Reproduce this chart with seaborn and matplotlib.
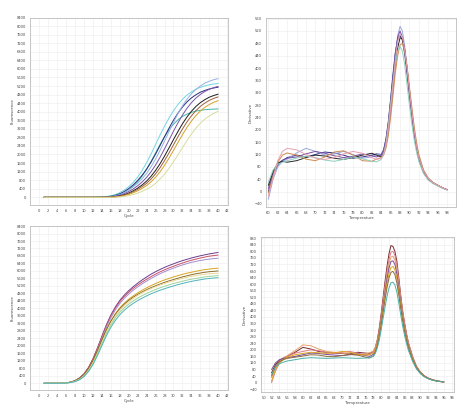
import pandas as pd
import matplotlib
matplotlib.use("Agg")
import matplotlib.pyplot as plt
import seaborn as sns

# ---------------- Data ----------------
# amplification, run 1 (top left)
cycles = list(range(1, 41))
tl_cyan = [0, 0, 0, 0, 0, 0, 0, 0, 0, 0, 0, 0, 5, 15, 35, 70, 130, 220, 340, 500,
           700, 950, 1260, 1620, 2030, 2470, 2910, 3321, 3704, 4044,
           4337, 4579, 4773, 4926, 5047, 5137, 5204, 5255, 5294, 5320]
tl_teal = [0, 0, 0, 0, 0, 0, 0, 0, 0, 0, 0, 0, 5, 15, 30, 60, 105, 165, 250, 360,
           520, 730, 990, 1316, 1681, 2075, 2469, 2834, 3154, 3415,
           3619, 3777, 3884, 3967, 4026, 4063, 4092, 4109, 4121, 4129]
tl_navy = [0, 0, 0, 0, 0, 0, 0, 0, 0, 0, 0, 0, 0, 5, 15, 40, 85, 160, 270, 410,
           580, 790, 1034, 1318, 1649, 2021, 2420, 2830, 3229, 3602,
           3932, 4216, 4452, 4641, 4788, 4909, 4993, 5061, 5108, 5145]
tl_lblue = [0, 0, 0, 0, 0, 0, 0, 0, 0, 0, 0, 0, 0, 0, 10, 30, 70, 130, 220, 340,
            490, 661, 866, 1123, 1431, 1790, 2195, 2628, 3072, 3506,
            3910, 4269, 4577, 4834, 5039, 5198, 5330, 5421, 5495, 5546]
tl_purple = [0, 0, 0, 0, 0, 0, 0, 0, 0, 0, 0, 0, 0, 0, 5, 20, 50, 100, 170, 270,
             390, 540, 717, 934, 1198, 1511, 1870, 2263, 2675, 3087,
             3480, 3839, 4152, 4416, 4633, 4804, 4941, 5045, 5123, 5181]
tl_black = [0, 0, 0, 0, 0, 0, 0, 0, 0, 0, 0, 0, 0, 0, 0, 10, 30, 65, 120, 200,
            305, 430, 580, 760, 985, 1255, 1570, 1925, 2305, 2695,
            3075, 3430, 3745, 4015, 4240, 4420, 4560, 4675, 4755, 4820]
tl_brown = [0, 0, 0, 0, 0, 0, 0, 0, 0, 0, 0, 0, 0, 0, 0, 5, 20, 50, 100, 170,
            260, 370, 500, 657, 855, 1098, 1384, 1713, 2073, 2450,
            2827, 3187, 3516, 3802, 4045, 4243, 4400, 4525, 4621, 4692]
tl_gold = [0, 0, 0, 0, 0, 0, 0, 0, 0, 0, 0, 0, 0, 0, 0, 0, 15, 40, 80, 135,
           210, 305, 418, 551, 722, 936, 1192, 1492, 1829, 2190,
           2560, 2921, 3259, 3558, 3814, 4028, 4199, 4332, 4441, 4517]
tl_pale = [0, 0, 0, 0, 0, 0, 0, 0, 0, 0, 0, 0, 0, 0, 0, 0, 5, 20, 45, 80,
           130, 198, 280, 378, 499, 654, 847, 1079, 1350, 1656,
           1982, 2318, 2645, 2950, 3221, 3453, 3646, 3801, 3922, 4021]

# amplification, run 2 (bottom left)
bl_purple = [0, 0, 0, 0, 5, 20, 60, 140, 280, 500, 840, 1300, 1880, 2520, 3130, 3650, 4080, 4430, 4710, 4950,
             5160, 5350, 5520, 5680, 5830, 5960, 6080, 6190, 6290, 6380,
             6470, 6550, 6620, 6690, 6750, 6810, 6860, 6910, 6950, 6990]
bl_pink = [0, 0, 0, 0, 5, 22, 65, 150, 290, 510, 850, 1310, 1880, 2500, 3090, 3600, 4020, 4360, 4640, 4870,
           5070, 5250, 5410, 5560, 5700, 5830, 5950, 6060, 6160, 6250,
           6340, 6420, 6500, 6570, 6630, 6690, 6740, 6790, 6820, 6850]
bl_lav = [0, 0, 0, 0, 4, 18, 55, 125, 255, 460, 780, 1220, 1780, 2400, 2990, 3500, 3920, 4260, 4540, 4770,
          4970, 5150, 5310, 5460, 5600, 5730, 5850, 5960, 6060, 6150,
          6240, 6320, 6390, 6460, 6510, 6560, 6600, 6630, 6660, 6680]
bl_gold = [0, 0, 0, 0, 4, 18, 55, 120, 240, 440, 750, 1170, 1700, 2290, 2850, 3330, 3720, 4030, 4280, 4490,
           4670, 4830, 4970, 5100, 5220, 5330, 5430, 5520, 5600, 5680,
           5750, 5820, 5880, 5930, 5980, 6030, 6070, 6100, 6130, 6150]
bl_olive = [0, 0, 0, 0, 5, 20, 60, 135, 270, 480, 800, 1230, 1760, 2330, 2870, 3320, 3690, 3990, 4230, 4430,
            4600, 4750, 4880, 5000, 5110, 5210, 5300, 5390, 5470, 5540,
            5610, 5680, 5740, 5800, 5850, 5890, 5930, 5960, 5980, 6000]
bl_yellow = [0, 0, 0, 0, 3, 14, 45, 105, 215, 400, 690, 1090, 1600, 2170, 2720, 3190, 3580, 3890, 4140, 4350,
             4530, 4690, 4830, 4950, 5060, 5160, 5250, 5330, 5410, 5480,
             5540, 5600, 5660, 5710, 5750, 5790, 5820, 5850, 5870, 5880]
bl_green = [0, 0, 0, 0, 3, 12, 40, 95, 200, 380, 660, 1050, 1550, 2110, 2650, 3110, 3490, 3790, 4030, 4230,
            4400, 4550, 4680, 4800, 4910, 5010, 5100, 5180, 5260, 5330,
            5390, 5450, 5510, 5560, 5600, 5640, 5680, 5710, 5730, 5750]
bl_teal = [0, 0, 0, 0, 3, 12, 38, 90, 190, 360, 630, 1000, 1480, 2020, 2540, 2990, 3360, 3660, 3900, 4100,
           4270, 4420, 4550, 4670, 4780, 4880, 4970, 5050, 5130, 5200,
           5270, 5330, 5390, 5440, 5490, 5530, 5570, 5600, 5620, 5640]

# melt curve, run 1 (top right)
tr_temp = [60, 61, 62, 63, 64, 66, 68, 70, 72, 74, 76, 78, 80, 82, 83, 84,
           84.5, 85, 85.5, 86, 86.5, 87, 87.5, 88, 88.5, 89, 89.5, 90, 90.5, 91, 91.5, 92,
           93, 94, 95, 96, 97, 98]
tr_navy = [0, 55, 85, 100, 110, 118, 112, 120, 128, 125, 118, 108, 112, 118, 122, 120,
           135, 170, 225, 300, 380, 450, 495, 505, 490, 445, 380, 310, 245, 185, 140, 105,
           62, 40, 28, 20, 12, 6]
tr_lblue = [-25, 40, 80, 98, 105, 125, 140, 130, 118, 122, 130, 120, 108, 112, 120, 118,
            130, 160, 215, 285, 360, 440, 505, 535, 520, 470, 400, 325, 255, 195, 145, 108,
            64, 41, 29, 20, 12, 6]
tr_purple = [10, 60, 90, 102, 108, 112, 122, 130, 124, 116, 110, 114, 122, 116, 112, 118,
             132, 165, 220, 292, 370, 445, 500, 520, 500, 455, 390, 318, 250, 190, 142, 106,
             63, 40, 28, 20, 12, 6]
tr_black = [20, 65, 92, 98, 95, 100, 110, 118, 115, 108, 104, 110, 118, 124, 118, 112,
            122, 150, 195, 260, 335, 410, 465, 498, 495, 460, 400, 330, 262, 200, 150, 112,
            66, 42, 29, 20, 12, 6]
tr_orange = [-5, 50, 95, 118, 125, 118, 105, 100, 112, 128, 132, 118, 100, 98, 105, 110,
             118, 140, 180, 240, 310, 385, 440, 475, 480, 455, 405, 340, 275, 212, 160, 120,
             70, 44, 30, 21, 13, 6]
tr_mint = [30, 70, 88, 95, 100, 108, 115, 110, 102, 98, 104, 112, 106, 98, 96, 104,
           120, 155, 210, 280, 350, 415, 455, 470, 455, 410, 345, 280, 220, 168, 128, 97,
           58, 37, 26, 18, 11, 5]
tr_pink = [-15, 45, 100, 130, 140, 135, 120, 108, 104, 110, 122, 130, 124, 110, 104, 108,
           120, 150, 200, 270, 345, 425, 485, 510, 500, 460, 398, 328, 260, 198, 148, 110,
           65, 42, 29, 20, 12, 6]

# melt curve, run 2 (bottom right)
br_temp = [52, 53, 54, 55, 56, 58, 60, 62, 64, 66, 68, 70, 72, 74, 76, 77, 78,
           78.5, 79, 79.5, 80, 80.5, 81, 81.5, 82, 82.5, 83, 83.5, 84, 84.5, 85, 85.5, 86, 86.5, 87,
           88, 89, 90, 91, 92, 93, 94, 95, 96]
br_maroon = [60, 110, 135, 150, 160, 185, 215, 205, 190, 185, 180, 178, 175, 185, 180, 178, 190,
             215, 260, 330, 420, 520, 620, 710, 785, 835, 830, 800, 740, 640, 530, 435, 360, 295, 240,
             160, 100, 65, 42, 28, 19, 12, 8, 5]
br_pink = [0, 70, 120, 145, 160, 180, 190, 200, 195, 185, 178, 185, 190, 180, 170, 172, 185,
           210, 252, 318, 402, 498, 595, 680, 752, 795, 800, 775, 715, 622, 520, 428, 350, 288, 235,
           157, 98, 63, 41, 27, 18, 12, 8, 5]
br_salmon = [30, 95, 130, 150, 165, 195, 230, 225, 205, 190, 185, 180, 172, 168, 175, 182, 192,
             212, 250, 310, 390, 480, 570, 655, 725, 765, 770, 748, 690, 602, 505, 418, 342, 282, 230,
             154, 96, 62, 40, 27, 18, 12, 8, 5]
br_purple = [80, 120, 140, 148, 152, 160, 170, 180, 178, 172, 168, 165, 170, 175, 165, 160, 172,
             196, 238, 300, 378, 465, 552, 632, 698, 738, 742, 720, 662, 578, 485, 400, 328, 270, 220,
             147, 93, 60, 39, 26, 17, 11, 7, 4]
br_gold = [10, 80, 120, 140, 155, 170, 178, 185, 182, 178, 182, 190, 185, 172, 168, 170, 180,
           200, 238, 295, 368, 448, 530, 605, 665, 702, 708, 688, 635, 555, 468, 388, 320, 264, 215,
           145, 92, 60, 39, 26, 17, 11, 7, 4]
br_olive = [40, 100, 128, 140, 148, 155, 162, 170, 168, 160, 158, 165, 172, 168, 155, 150, 162,
            185, 222, 278, 350, 428, 508, 580, 638, 672, 678, 658, 608, 533, 450, 374, 308, 254, 208,
            140, 89, 58, 38, 25, 17, 11, 7, 4]
br_teal = [50, 95, 115, 125, 132, 140, 148, 152, 150, 148, 150, 152, 150, 148, 150, 152, 160,
           178, 210, 258, 322, 392, 462, 526, 578, 608, 612, 596, 552, 486, 412, 344, 285, 236, 194,
           131, 84, 55, 36, 24, 16, 10, 7, 4]

tl_curves = {"cyan": tl_cyan, "teal": tl_teal, "navy": tl_navy, "lblue": tl_lblue, "purple": tl_purple,
             "black": tl_black, "brown": tl_brown, "gold": tl_gold, "pale": tl_pale}
tl_colors = {"cyan": "#72d6e2", "teal": "#3fb8a8", "navy": "#2b2d7e", "lblue": "#93b2e2", "purple": "#7a55a8",
             "black": "#1c1c1c", "brown": "#a0603a", "gold": "#d4a22a", "pale": "#d9dc9c"}
bl_curves = {"purple": bl_purple, "pink": bl_pink, "lav": bl_lav, "gold": bl_gold, "olive": bl_olive,
             "yellow": bl_yellow, "green": bl_green, "teal": bl_teal}
bl_colors = {"purple": "#6a3d8f", "pink": "#c8506a", "lav": "#a38fcf", "gold": "#d9a520", "olive": "#8a6d2a",
             "yellow": "#ead894", "green": "#9fd39a", "teal": "#4fb4bc"}
tr_curves = {"navy": tr_navy, "lblue": tr_lblue, "purple": tr_purple, "black": tr_black,
             "orange": tr_orange, "mint": tr_mint, "pink": tr_pink}
tr_colors = {"navy": "#2c2f86", "lblue": "#9aa6dc", "purple": "#7b4ea3", "black": "#262626",
             "orange": "#d08a50", "mint": "#8fd0c0", "pink": "#e8a0b0"}
br_curves = {"maroon": br_maroon, "pink": br_pink, "salmon": br_salmon, "purple": br_purple,
             "gold": br_gold, "olive": br_olive, "teal": br_teal}
br_colors = {"maroon": "#7a2a2a", "pink": "#e07a8a", "salmon": "#e8a070", "purple": "#7a4a9a",
             "gold": "#d9a520", "olive": "#8b6b3a", "teal": "#4ab0a8"}


def long_df(x, curves, xname, yname):
    rows = []
    for name, vals in curves.items():
        for xv, yv in zip(x, vals):
            rows.append({xname: xv, yname: yv, "well": name})
    return pd.DataFrame(rows)


def panel(ax, df, xname, yname, colors, xticks, yticks, xlim, ylim):
    sns.lineplot(data=df, x=xname, y=yname, hue="well", palette=colors, ax=ax,
                 legend=False, linewidth=0.7, estimator=None, sort=False)
    ax.set_xticks(xticks)
    ax.set_yticks(yticks)
    ax.set_xlim(*xlim)
    ax.set_ylim(*ylim)
    ax.grid(True, color="#ededed", linewidth=0.4)
    ax.set_axisbelow(True)
    ax.tick_params(labelsize=2.6, length=1.5, width=0.4, color="#888888", pad=1.5, labelcolor="#444444")
    ax.set_xlabel(xname, fontsize=2.8, labelpad=0.5, color="#444444")
    ax.set_ylabel(yname, fontsize=2.8, labelpad=1.5, color="#444444")
    for s in ax.spines.values():
        s.set_color("#bdbdbd")
        s.set_linewidth(0.6)


sns.set_style("white")
fig = plt.figure(figsize=(4.74, 4.13), dpi=100)

ax1 = fig.add_axes([0.0633, 0.5036, 0.4177, 0.454])
ax2 = fig.add_axes([0.5612, 0.4988, 0.4008, 0.4576])
ax3 = fig.add_axes([0.0633, 0.0557, 0.4177, 0.397])
ax4 = fig.add_axes([0.5506, 0.0508, 0.4072, 0.3753])

amp_xticks = list(range(0, 43, 2))
amp_yticks = list(range(0, 8401, 400))
panel(ax1, long_df(cycles, tl_curves, "Cycle", "Fluorescence"), "Cycle", "Fluorescence",
      tl_colors, amp_xticks, amp_yticks, (-2.1, 42.2), (-360, 8400))
panel(ax3, long_df(cycles, bl_curves, "Cycle", "Fluorescence"), "Cycle", "Fluorescence",
      bl_colors, amp_xticks, amp_yticks, (-2.1, 42.2), (-360, 8400))

panel(ax2, long_df(tr_temp, tr_curves, "Temperature", "Derivative"), "Temperature", "Derivative",
      tr_colors, list(range(60, 99, 2)), list(range(-40, 561, 40)), (59.5, 99.9), (-50, 562))
panel(ax4, long_df(br_temp, br_curves, "Temperature", "Derivative"), "Temperature", "Derivative",
      br_colors, list(range(50, 99, 2)), list(range(-40, 881, 40)), (49.3, 98.6), (-57, 887))

plt.savefig("out.png", dpi=100)
